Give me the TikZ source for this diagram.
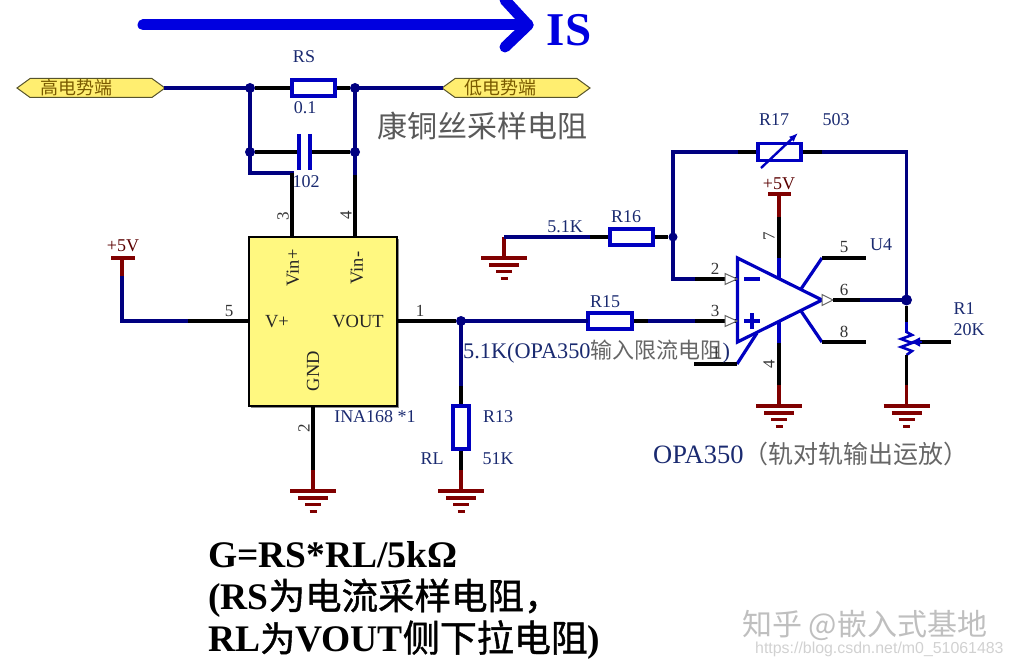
\documentclass[tikz,border=0pt]{standalone}
\usepackage{fontspec}
\setmainfont{Liberation Serif}
\newfontfamily\cjk{Noto Sans CJK SC}
\newfontfamily\cjkb[FakeBold=1.2]{Noto Sans CJK SC}
\newfontfamily\hei{Liberation Sans}
\usetikzlibrary{shapes.symbols,arrows.meta}
\definecolor{wire}{HTML}{000080}
\definecolor{part}{HTML}{0000C0}
\definecolor{power}{HTML}{800000}
\definecolor{bigblue}{HTML}{0000E0}
\definecolor{lab}{HTML}{1A2A70}
\definecolor{tagfill}{HTML}{FFEE70}
\definecolor{tagtext}{HTML}{7A5A00}
\tikzset{
  x=1pt,y=-1pt,
  wirel/.style={draw=wire,line width=3.2pt,line join=miter,line cap=rect},
  pinl/.style={draw=black,line width=3.2pt},
  powl/.style={draw=power,line width=3.2pt},
  partl/.style={draw=part,line width=3.2pt},
  resbox/.style={draw=part,line width=3.2pt,fill=white,minimum width=#1,minimum height=16pt,inner sep=0pt},
  vresbox/.style={draw=part,line width=3.2pt,fill=white,minimum width=16pt,minimum height=#1,inner sep=0pt},
  jun/.style={circle,fill=wire,minimum size=10pt,inner sep=0pt},
  lbl/.style={text=lab,font=\fontsize{18}{18}\selectfont,inner sep=0pt},
  pinlab/.style={text=black!80,font=\fontsize{17}{17}\selectfont,inner sep=0pt},
  ictext/.style={text=black!85,font=\fontsize{18.5}{18.5}\selectfont,inner sep=0pt},
  cnlab/.style={text=black!65,inner sep=0pt},
  formula/.style={anchor=west,text=black,inner sep=0pt,font=\bfseries\fontsize{37.5}{37.5}\selectfont},
  tag/.style={signal,signal to=east and west,signal pointer angle=72,draw=black!50!olive,fill=tagfill,line width=1pt,
     minimum width=148pt,minimum height=19pt,inner sep=0pt},
  tagword/.style={inner sep=0pt,text=tagtext,font=\cjk\fontsize{18}{18}\selectfont},
  inarrow/.style={draw=black!60,fill=white,line width=1pt},
  gndsym/.pic={
    \draw[power,line width=3.2pt] (-23,0)--(23,0);
    \draw[power,line width=3.2pt] (-15,7)--(15,7);
    \draw[power,line width=3.2pt] (-8,13.5)--(8,13.5);
    \draw[power,line width=3.2pt] (-3.5,20.5)--(3.5,20.5);
  },
  vccbar/.style={draw=power,line width=3.2pt},
  vcclab/.style={text=power!70!black,font=\fontsize{18}{18}\selectfont,inner sep=0pt}
}
\begin{document}
\begin{tikzpicture}
\useasboundingbox (0,0) rectangle (1013,666);

% big current arrow
\coordinate (isA) at (143,25);
\coordinate (isB) at (528,25);
\draw[bigblue,line width=11pt,line cap=round,line join=round] (isA)--(isB);
\draw[bigblue,line width=11pt,line cap=round,line join=round] (505,0)--(isB)--(505,47);
\node[text=bigblue,font=\bfseries\fontsize{47}{47}\selectfont,inner sep=0pt] (istext) at (569,30) {IS};

% top sense network
\node[tag] (hi) at (91,88) {};
\node[tag] (lo) at (516,88) {};
\node[tagword] (hit) at (76,88) {高电势端};
\node[tagword] (lot) at (500,88) {低电势端};
\node[jun] (j1) at (250,88) {};
\node[jun] (j2) at (355,88) {};
\node[jun] (j3) at (250,152) {};
\node[jun] (j4) at (355,152) {};
\node[resbox=43pt] (rs) at (313.5,88) {};
\coordinate (c1) at (299,152);
\coordinate (c2) at (310,152);
\coordinate (k1) at (250,173);
\coordinate (k2) at (292,173);
\coordinate (icp3) at (292,237);
\coordinate (icp4) at (355,237);
\coordinate (k4) at (355,175);

\draw[wirel] (hi.east)--(j1);
\draw[wirel] (j2)--(lo.west);
\draw[pinl] (j1)--(rs.west);
\draw[pinl] (rs.east)--(j2);
\draw[wirel] (j1)--(j3);
\draw[wirel] (j2)--(j4);
\draw[pinl] (j3)--(c1);
\draw[pinl] (c2)--(j4);
\draw[wirel] (j3)--(k1)--(k2);
\draw[wirel] (j4)--(k4);
\draw[pinl] (k2)--(icp3);
\draw[pinl] (k4)--(icp4);
\draw[partl] (299,134)--(299,170);
\draw[partl] (310,134)--(310,170);
\node[lbl] (rsl) at (304,57) {RS};
\node[lbl] (rsv) at (305,108) {0.1};
\node[lbl] (cv) at (306,182) {102};
\node[cnlab,font=\cjk\fontsize{30}{30}\selectfont] (kt) at (482,126) {康铜丝采样电阻};

% INA168
\fill[black!45] (251,239) rectangle (399,408);
\node[draw=black,line width=2pt,fill=yellow!50!white,minimum width=148pt,minimum height=169pt,inner sep=0pt] (ic) at (323,321.5) {};
\node[ictext,rotate=90] (vip) at (293,268) {Vin+};
\node[ictext,rotate=90] (vim) at (357,268) {Vin-};
\node[ictext] (vpl) at (277,322) {V+};
\node[ictext] (vol) at (358,322) {VOUT};
\node[ictext,rotate=90] (gl) at (313,371) {GND};
\node[pinlab,rotate=90] (p3) at (283,216) {3};
\node[pinlab,rotate=90] (p4) at (346,215) {4};
\node[pinlab] (p5) at (229,311) {5};
\node[pinlab] (p1) at (420,311) {1};
\node[pinlab,rotate=90] (p2) at (304,428) {2};
\node[lbl] (inal) at (375,417) {INA168 *1};

% +5V left
\coordinate (v1) at (122,258);
\coordinate (v1a) at (122,278);
\coordinate (v1b) at (122,321);
\coordinate (v1c) at (188,321);
\draw[vccbar] (111,258)--(135,258);
\draw[powl] (v1)--(v1a);
\draw[wirel] (v1a)--(v1b)--(v1c);
\draw[pinl] (v1c)--(249,321);
\node[vcclab] (v1l) at (123,246) {+5V};

% GND of IC
\coordinate (ig) at (313,406);
\coordinate (ig1) at (313,470);
\coordinate (ig2) at (313,491);
\draw[pinl] (ig)--(ig1);
\draw[powl] (ig1)--(ig2);
\pic at (ig2) {gndsym};

% output node, RL
\node[jun] (j5) at (461,321) {};
\node[vresbox=43pt] (r13) at (461,427.5) {};
\coordinate (r13a) at (461,386);
\coordinate (r13b) at (461,470);
\coordinate (g13) at (461,491);
\draw[pinl] (397,321)--(j5);
\draw[wirel] (j5)--(r13a);
\draw[pinl] (r13a)--(r13.north);
\draw[pinl] (r13.south)--(r13b);
\draw[powl] (r13b)--(g13);
\pic at (g13) {gndsym};
\node[lbl] (r13l) at (498,417) {R13};
\node[lbl] (rll) at (432,459) {RL};
\node[lbl] (r13v) at (498,459) {51K};

% R15
\node[resbox=44pt] (r15) at (610,321) {};
\coordinate (ip) at (737,321);
\coordinate (ipb) at (650,321);
\draw[wirel] (j5)--(r15.west);
\draw[pinl] (r15.east)--(ipb);
\draw[wirel] (ipb)--(695,321);
\draw[pinl] (695,321)--(ip);
\node[lbl] (r15l) at (605,302) {R15};
\node[pinlab] (p3b) at (715,311) {3};

% R16 and ground
\coordinate (g16) at (504,258);
\coordinate (g16a) at (504,237);
\node[resbox=43pt] (r16) at (631.5,237) {};
\node[jun,minimum size=9pt] (j6) at (673,237) {};
\draw[powl] (g16)--(g16a);
\draw[draw=wire,line width=3.8pt] (g16a)--(590,237);
\draw[draw=black,line width=3.8pt] (590,237)--(r16.west);
\draw[draw=black,line width=3.8pt] (r16.east)--(j6);
\pic at (g16) {gndsym};
\node[lbl] (r16v) at (565,227) {5.1K};
\node[lbl] (r16l) at (626,217) {R16};

% feedback
\coordinate (fb1) at (673,152);
\coordinate (fb2) at (906.5,152);
\coordinate (im) at (737,279);
\coordinate (imc) at (673,279);
\node[resbox=43pt,minimum height=17pt] (r17) at (779.5,152) {};
\draw[wirel] (imc)--(j6)--(fb1)--(738,152);
\draw[pinl] (738,152)--(r17.west);
\draw[pinl] (r17.east)--(824,152);
\draw[wirel] (824,152)--(fb2);
\draw[wirel] (imc)--(695,279);
\draw[pinl] (695,279)--(im);
\draw[part,line width=2.4pt,-{Latex[length=9pt,width=7pt]}] (761,168)--(798,133);
\node[lbl] (r17l) at (774,120) {R17};
\node[lbl] (r17v) at (836,120) {503};
\node[pinlab] (p2b) at (715,269) {2};

% op amp extra pins (behind the triangle)
\coordinate (p5a) at (801,289);
\coordinate (p5b) at (822,258);
\coordinate (p5c) at (866,258);
\coordinate (p8a) at (801,311);
\coordinate (p8b) at (822,342);
\coordinate (p8c) at (866,342);
\coordinate (p1a) at (757,333);
\coordinate (p1b) at (737,364);
\coordinate (p1c) at (694,364);
\draw[partl] (p5a)--(p5b);
\draw[pinl] (p5b)--(p5c);
\draw[partl] (p8a)--(p8b);
\draw[pinl] (p8b)--(p8c);
\draw[partl] (p1a)--(p1b);
\draw[pinl] (p1b)--(p1c);

% op amp
\coordinate (ta) at (737.5,258);
\coordinate (tb) at (737.5,342);
\coordinate (tc) at (822,300);
\draw[part,line width=3.2pt,fill=white,line join=miter] (ta)--(tc)--(tb)--cycle;
\draw[part,line width=3.6pt] (744,279)--(760,279);
\draw[part,line width=3.6pt] (744,321)--(760,321);
\draw[part,line width=3.6pt] (752,313)--(752,329);
\draw[inarrow] (725,273.5)--(737,279)--(725,284.5)--cycle;
\draw[inarrow] (725,315.5)--(737,321)--(725,326.5)--cycle;
\draw[inarrow] (822,294.5)--(833,300)--(822,305.5)--cycle;

% op amp supply
\coordinate (v2) at (779,194);
\coordinate (v2a) at (779,217);
\coordinate (v2b) at (779,258);
\coordinate (v2c) at (779,278);
\draw[vccbar] (768,194)--(791,194);
\draw[powl] (v2)--(v2a);
\draw[pinl] (v2a)--(v2b);
\draw[partl] (v2b)--(v2c);
\node[vcclab] (v2l) at (779,184) {+5V};
\node[pinlab,rotate=90] (p7) at (769,236) {7};
\coordinate (g4a) at (779,322);
\coordinate (g4b) at (779,343);
\coordinate (g4c) at (779,385);
\coordinate (g4) at (779,406);
\draw[partl] (g4a)--(g4b);
\draw[pinl] (g4b)--(g4c);
\draw[powl] (g4c)--(g4);
\pic at (g4) {gndsym};
\node[pinlab,rotate=90] (p4b) at (769,364) {4};
\node[pinlab] (p5b2) at (844,247) {5};
\node[pinlab] (p6b) at (844,290) {6};
\node[pinlab] (p8b2) at (844,332) {8};
\node[lbl] (u4) at (881,245) {U4};

% output and pot
\node[jun,minimum size=11pt] (j7) at (906.5,300) {};
\coordinate (o1) at (833,300);
\coordinate (o2) at (862,300);
\coordinate (pt) at (906.5,332);
\coordinate (pb) at (906.5,355);
\coordinate (pk) at (906.5,385);
\coordinate (gr) at (906.5,406);
\coordinate (wi) at (951,342);
\coordinate (wt) at (909,342);
\draw[pinl] (o1)--(o2);
\draw[wirel] (o2)--(j7);
\draw[wirel] (fb2)--(j7);
\draw[pinl] (j7)--(906.5,322);
\draw[part,line width=2.6pt] (906.5,322)--(pt)--(912,335)--(901,339)--(912,343)--(901,347)--(912,351)--(pb);
\draw[pinl] (pb)--(pk);
\draw[powl] (pk)--(gr);
\pic at (gr) {gndsym};
\draw[pinl] (wi)--(920,342);
\draw[part,line width=2.4pt,-{Latex[length=11pt,width=10pt]}] (922,342)--(wt);
\node[lbl] (r1l) at (964,309) {R1};
\node[lbl] (r1v) at (969,330) {20K};

% notes
\node[anchor=west,inner sep=0pt,text=lab,font=\fontsize{22.3}{22.3}\selectfont] (note) at (463,352) {5.1K(OPA350{\cjk\color{black!60}\fontsize{22}{22}\selectfont 输入限流电阻}{\color{lab})}};
\node[pinlab] (p1b2) at (716,353) {1};
\node[anchor=west,inner sep=0pt,text=lab,font=\fontsize{26.5}{26.5}\selectfont] (opa) at (653,454) {OPA350{\cjk\color{black!60}\fontsize{25}{25}\selectfont （轨对轨输出运放）}};

\node[formula] (f1) at (208,555) {G=RS*RL/5kΩ};
\node[formula] (f2) at (208,598) {(RS{\cjkb\mdseries\fontsize{36.5}{36.5}\selectfont 为电流采样电阻，}};
\node[formula] (f3) at (208,640) {RL{\cjkb\mdseries\fontsize{35}{35}\selectfont 为}VOUT{\cjkb\mdseries\fontsize{37}{37}\selectfont 侧下拉电阻})};

% watermark
\node[anchor=west,inner sep=0pt,text=black!25,font=\cjk\fontsize{30}{30}\selectfont] (wm) at (742,625) {知乎 @嵌入式基地};
\node[anchor=west,inner sep=0pt,text=black!18,font=\hei\fontsize{15.9}{15.9}\selectfont] (url) at (755,649) {https://blog.csdn.net/m0\_51061483};
\end{tikzpicture}
\end{document}
